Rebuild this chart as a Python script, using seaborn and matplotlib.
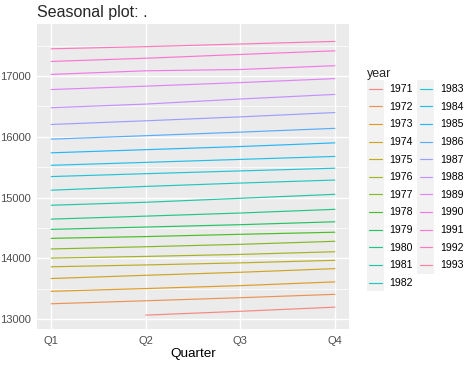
import numpy as np
import pandas as pd
import matplotlib
matplotlib.use("Agg")
import matplotlib.pyplot as plt
import seaborn as sns
from matplotlib.lines import Line2D
from matplotlib.patches import Rectangle
from matplotlib.legend_handler import HandlerLine2D

# ---- data ----
years = list(range(1971, 1994))
quarter_labels = ["Q1", "Q2", "Q3", "Q4"]
q1 = [None, 13254.2, 13459.2, 13669.5, 13862.6, 14004.7, 14155.6, 14330.3, 14478.4,
      14646.4, 14874.4, 15121.7, 15346.2, 15531.5, 15736.7, 15961.5, 16203.0, 16478.3,
      16777.2, 17026.3, 17239.4, 17447.3, 17627.1]
q2 = [13067.3, 13303.7, 13504.5, 13722.6, 13893.0, 14033.1, 14192.2, 14359.3, 14515.7,
      14695.4, 14923.3, 15184.2, 15393.5, 15579.4, 15788.3, 16018.3, 16263.3, 16538.2,
      16833.1, 17085.4, 17292.0, 17482.6, None]
q3 = [13130.5, 13353.9, 13552.6, 13772.1, 13926.8, 14066.0, 14231.7, 14396.6, 14554.9,
      14746.6, 14988.7, 15239.3, 15439.0, 15628.5, 15839.7, 16076.9, 16327.9, 16621.6,
      16891.6, 17106.9, 17354.2, 17526.0, None]
q4 = [13198.4, 13409.3, 13614.3, 13832.0, 13968.9, 14110.1, 14281.5, 14430.8, 14602.5,
      14807.4, 15054.1, 15288.9, 15483.5, 15677.3, 15900.6, 16139.0, 16398.9, 16697.0,
      16956.8, 17169.4, 17414.2, 17568.7, None]

rows = []
for i, y in enumerate(years):
    for qi, vals in enumerate([q1, q2, q3, q4]):
        if vals[i] is not None:
            rows.append({"year": str(y), "quarter": qi + 1, "value": vals[i]})
df = pd.DataFrame(rows)


# ---- ggplot-like hue palette (hcl, c=100, l=65) ----
def hcl_to_hex(h, c=100.0, l=65.0):
    hr = np.deg2rad(h)
    u, v = c * np.cos(hr), c * np.sin(hr)
    Xn, Yn, Zn = 95.047, 100.0, 108.883
    un = 4 * Xn / (Xn + 15 * Yn + 3 * Zn)
    vn = 9 * Yn / (Xn + 15 * Yn + 3 * Zn)
    Y = Yn * ((l + 16) / 116) ** 3
    up = u / (13 * l) + un
    vp = v / (13 * l) + vn
    X = Y * 9 * up / (4 * vp)
    Z = Y * (12 - 3 * up - 20 * vp) / (4 * vp)
    X, Y, Z = X / 100, Y / 100, Z / 100
    r = 3.2404542 * X - 1.5371385 * Y - 0.4985314 * Z
    g = -0.9692660 * X + 1.8760108 * Y + 0.0415560 * Z
    b = 0.0556434 * X - 0.2040259 * Y + 1.0572252 * Z
    out = []
    for ch in (r, g, b):
        ch = float(ch)
        ch = 12.92 * ch if ch <= 0.0031308 else 1.055 * ch ** (1 / 2.4) - 0.055
        out.append(min(max(ch, 0.0), 1.0))
    return matplotlib.colors.to_hex(out)

n = len(years)
hues = [15 + 360 * i / n for i in range(n)]
palette = [hcl_to_hex(h) for h in hues]

LW = 0.85
ALPHA = 0.85

# ---- figure ----
sns.set_style("white")
plt.rcParams["font.family"] = ["Liberation Sans", "DejaVu Sans"]

fig = plt.figure(figsize=(4.74, 3.65), dpi=100)
ax = fig.add_axes([37 / 474, 1 - 329 / 365, (349 - 37) / 474, (329 - 24) / 365])
ax.set_facecolor("#EBEBEB")

sns.lineplot(data=df, x="quarter", y="value", hue="year", hue_order=[str(y) for y in years],
             palette=palette, legend=False, ax=ax, linewidth=LW, alpha=ALPHA, estimator=None)

ax.set_xticks([1, 2, 3, 4])
ax.set_xticklabels(quarter_labels)
ax.set_yticks([13000, 14000, 15000, 16000, 17000])
ax.set_yticks(np.arange(12500, 18001, 1000), minor=True)

vmin, vmax = df["value"].min(), df["value"].max()
rng = vmax - vmin
ax.set_ylim(vmin - 0.05 * rng, vmax + 0.05 * rng)
ax.set_xlim(1 - 0.15, 4 + 0.15)

ax.grid(which="major", color="white", linewidth=1.0)
ax.grid(which="minor", axis="y", color="white", linewidth=0.5)
ax.set_axisbelow(True)
for s in ax.spines.values():
    s.set_visible(False)
ax.tick_params(axis="both", which="major", length=2.7, width=0.8, color="#333333",
               labelsize=8, labelcolor="#4D4D4D", pad=2)
ax.tick_params(axis="both", which="minor", length=0)
ax.set_xlabel("Quarter", fontsize=9.7, color="black", labelpad=2)
ax.set_ylabel("")

fig.text(37 / 474, 1 - 13 / 365, "Seasonal plot: .", fontsize=11.5, ha="left", va="center")


class KeyHandler(HandlerLine2D):
    def create_artists(self, legend, orig_handle, xdescent, ydescent, width, height,
                       fontsize, trans):
        rect = Rectangle((-xdescent, -ydescent), width, height, facecolor="#F2F2F2",
                         edgecolor="none", transform=trans)
        yc = height / 2 - ydescent
        line = Line2D([-xdescent + 1.5, -xdescent + width - 1.5], [yc, yc],
                      color=orig_handle.get_color(), linewidth=LW, alpha=ALPHA,
                      transform=trans)
        return [rect, line]


handles = [Line2D([], [], color=palette[i]) for i in range(n)]
labels = [str(y) for y in years]
leg = fig.legend(handles, labels, title="year", loc="upper left",
                 bbox_to_anchor=(367 / 474, 1 - 68 / 365), ncol=2, frameon=False,
                 fontsize=7.6, title_fontsize=9, handlelength=1.6, handleheight=2.19,
                 labelspacing=0.0, handletextpad=0.55, columnspacing=0.4,
                 borderpad=0, borderaxespad=0, alignment="left",
                 handler_map={Line2D: KeyHandler()})
for t in leg.get_texts():
    t.set_color("black")

fig.savefig("out.png", dpi=100)
